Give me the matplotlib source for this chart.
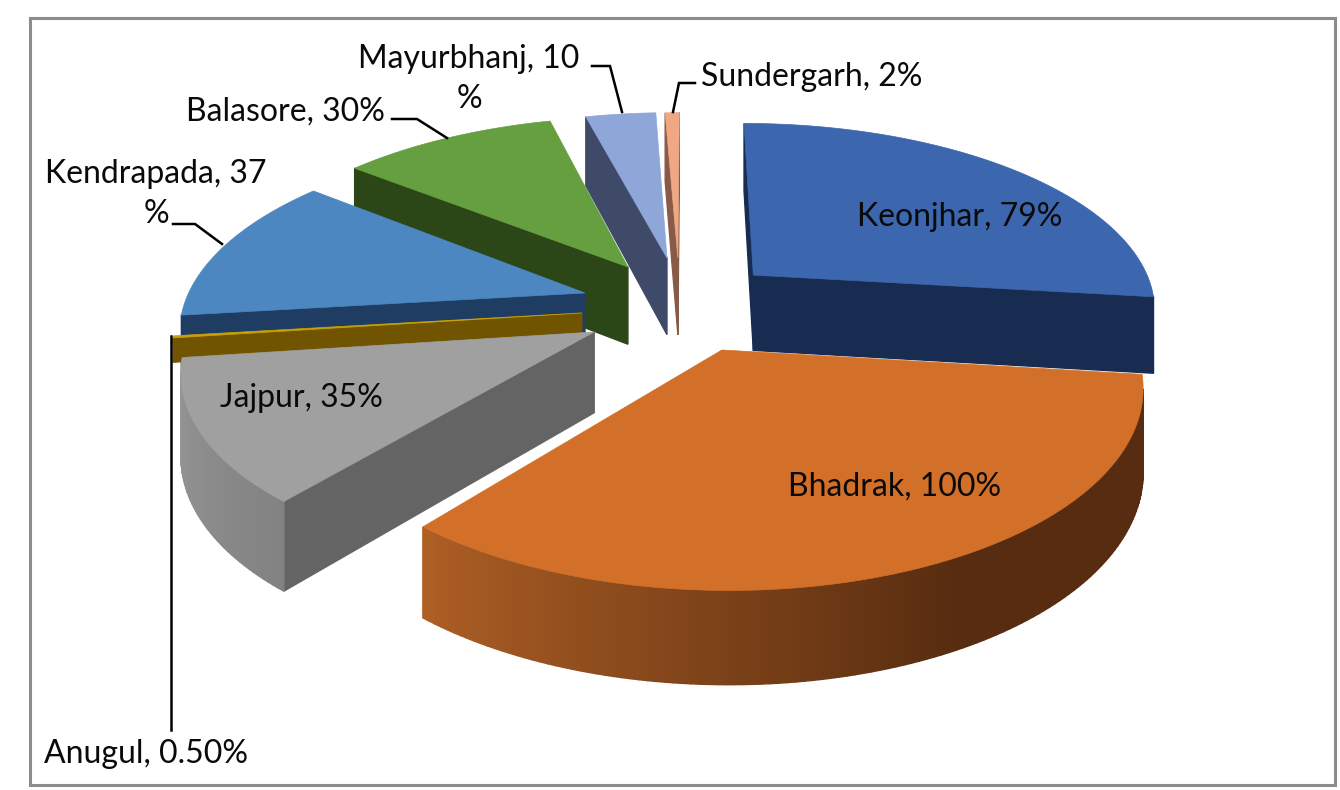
import numpy as np
import matplotlib
matplotlib.use("Agg")
import matplotlib.pyplot as plt
from matplotlib.patches import Polygon, Rectangle
from matplotlib.colors import to_rgb

# --- data ---
categories = ["Keonjhar", "Bhadrak", "Jajpur", "Anugul", "Kendrapada", "Balasore", "Mayurbhanj", "Sundergarh"]
values = [79, 100, 35, 0.5, 37, 30, 10, 2]
value_text = ["79%", "100%", "35%", "0.50%", "37\n%", "30%", "10\n%", "2%"]

# --- style ---
top_colors = ["#3c66ad", "#d2702a", "#a0a0a0", "#c9a400", "#4c87c2", "#659f3f", "#8ea6d8", "#f0a884"]
cut_colors = ["#182c52", "#6b3512", "#646464", "#705400", "#1f3d63", "#2b4718", "#3e4a68", "#8a5a48"]
side_start = ["#182c52", "#572c10", "#828282", "#705400", "#1f3d63", "#2b4718", "#3e4a68", "#8a5a48"]
side_end = ["#182c52", "#ad5f24", "#979797", "#705400", "#1f3d63", "#2b4718", "#3e4a68", "#8a5a48"]
side_knee = [0, 0.45, 0, 0, 0, 0, 0, 0]
explode_x = [0.165, 0.080, -0.225, -0.259, -0.256, -0.153, -0.054, -0.026]
explode_y = [0.137, -0.257, -0.167, -0.069, 0.038, 0.183, 0.235, 0.235]
radius_scale = [0.995, 0.977, 0.97, 0.978, 0.985, 1.0, 0.98, 0.98]
depth_scale = [0.97, 1, 1, 0.3, 1, 1, 1, 1]
paint_order = [6, 7, 5, 4, 3, 2, 0, 1]
CX, CY, RX, RY, P, H = 688, 300, 405, 186, 0.17, 79

label_xy = {"Keonjhar": (960, 217), "Bhadrak": (895, 487), "Jajpur": (301, 398),
            "Anugul": (146, 754), "Kendrapada": (156, 194), "Balasore": (285, 112),
            "Mayurbhanj": (469, 79), "Sundergarh": (812, 77)}
leaders = [[(592, 66), (610, 66), (622, 112)],
           [(695, 83), (679, 83), (673, 112)],
           [(392, 119), (417, 119), (447, 138)],
           [(173, 224), (195, 224), (222, 244)],
           [(171, 336), (171, 730)]]

plt.rcParams["font.family"] = ["Lato", "DejaVu Sans"]
fig = plt.figure(figsize=(13.4, 7.9), dpi=100)
ax = fig.add_axes([0, 0, 1, 1])
ax.set_xlim(0, 1340)
ax.set_ylim(790, 0)
ax.axis("off")
ax.add_patch(Rectangle((30, 18), 1305, 767, fc="white", ec="#8c8c8c", lw=2.2))


def project(X, Y, z):
    w = 1 / (1 + P * Y)
    return CX + RX * X * w, CY - RY * Y * w + z * H * w ** 0.75


def signed_area(pts):
    a = np.array(pts)
    b = np.roll(a, -1, axis=0)
    return np.sum(a[:, 0] * b[:, 1] - b[:, 0] * a[:, 1])


angles = np.cumsum([0] + values) / sum(values) * 2 * np.pi
for i in paint_order:
    a0, a1 = angles[i], angles[i + 1]
    n = max(2, int(np.degrees(a1 - a0) / 1.0))
    th = np.linspace(a0, a1, n + 1)
    r = radius_scale[i]
    xs = np.r_[explode_x[i], explode_x[i] + r * np.sin(th)]
    ys = np.r_[explode_y[i], explode_y[i] + r * np.cos(th)]
    top = [project(x, y, 0) for x, y in zip(xs, ys)]
    bot = [project(x, y, depth_scale[i]) for x, y in zip(xs, ys)]
    c0, c1 = np.array(to_rgb(side_start[i])), np.array(to_rgb(side_end[i]))
    m = len(top)
    for k in range(m):
        j = (k + 1) % m
        quad = [top[k], top[j], bot[j], bot[k]]
        if signed_area(quad) >= 0:
            continue
        if k == 0 or k == m - 1:
            col = cut_colors[i]
        else:
            f = (k - 1) / max(1, m - 3)
            t = max(0.0, (f - side_knee[i]) / (1 - side_knee[i]))
            col = tuple(c0 + (c1 - c0) * t)
        ax.add_patch(Polygon(quad, closed=True, fc=col, ec=col, lw=1.0))
    ax.add_patch(Polygon(top, closed=True, fc=top_colors[i], ec=top_colors[i], lw=0.5))

for pts in leaders:
    p = np.array(pts)
    ax.plot(p[:, 0], p[:, 1], color="black", lw=1.8, solid_joinstyle="miter")

for name, txt in zip(categories, value_text):
    x, y = label_xy[name]
    ax.text(x, y, f"{name}, {txt}", ha="center", va="center", ma="center",
            fontsize=23, color="#0a0a0a", linespacing=1.4)

fig.savefig("out.png", dpi=100)
